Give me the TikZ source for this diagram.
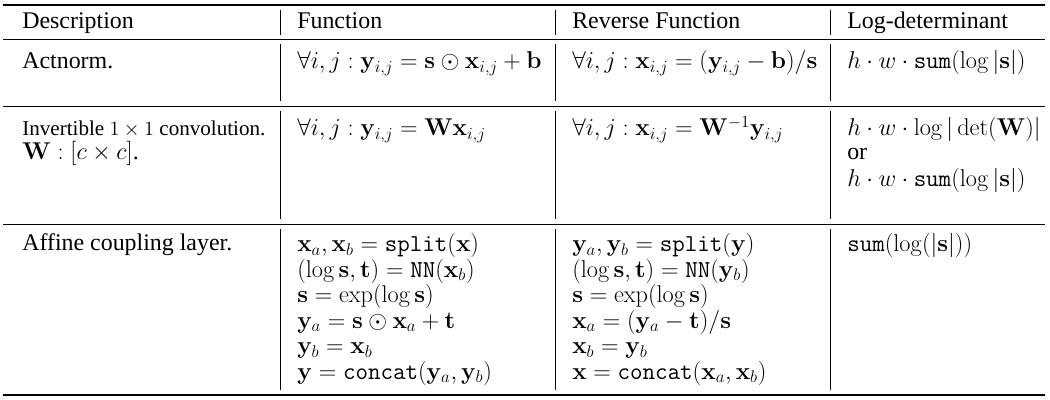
\documentclass[tikz,border=0pt]{standalone}
\usepackage{amsmath,amssymb}
\usepackage[no-math]{fontspec}
\setmainfont{Liberation Serif}
\begin{document}
\begin{tikzpicture}[x=0.025cm, y=-0.025cm,
    cell/.style={anchor=base west, inner sep=0pt, font=\fontsize{17}{20}\selectfont},
    rule/.style={line width=0.8pt},
    sep/.style={line width=0.5pt}]
    \useasboundingbox (0, 0) rectangle (1050, 400);

    % rules
    \draw[rule] (3, 5) -- (1045, 5);
    \draw[sep]  (3, 39) -- (1045, 39);
    \draw[sep]  (3, 106) -- (1045, 106);
    \draw[sep]  (3, 224) -- (1045, 224);
    \draw[rule] (3, 395) -- (1045, 395);

    % column separators
    \foreach \x in {280, 555, 830} {
        \draw[sep] (\x, 10) -- (\x, 35);
        \draw[sep] (\x, 44) -- (\x, 101);
        \draw[sep] (\x, 111) -- (\x, 219);
        \draw[sep] (\x, 229) -- (\x, 390);
    }

    % header
    \node[cell] (hdesc) at (22, 29)  {Description};
    \node[cell] (hfun)  at (297, 29) {Function};
    \node[cell] (hrev)  at (572, 29) {Reverse Function};
    \node[cell] (hlog)  at (847, 29) {Log-determinant};

    % actnorm
    \node[cell] (adesc) at (22, 69)  {Actnorm.};
    \node[cell] (afun)  at (297, 69) {$\forall i,j: \mathbf{y}_{i,j} = \mathbf{s}\odot\mathbf{x}_{i,j}+\mathbf{b}$};
    \node[cell] (arev)  at (572, 69) {$\forall i,j: \mathbf{x}_{i,j} = (\mathbf{y}_{i,j}-\mathbf{b})/\mathbf{s}$};
    \node[cell] (alog)  at (847, 69) {$h\cdot w\cdot \mathtt{sum}(\log|\mathbf{s}|)$};

    % invertible conv
    \node[cell, font=\fontsize{15}{18}\selectfont] (idesc) at (22, 136) {Invertible $1\times1$ convolution.};
    \node[cell] (idesc2) at (22, 160) {$\mathbf{W}:[c\times c]$.};
    \node[cell] (ifun)  at (297, 136) {$\forall i,j: \mathbf{y}_{i,j} = \mathbf{W}\mathbf{x}_{i,j}$};
    \node[cell] (irev)  at (572, 136) {$\forall i,j: \mathbf{x}_{i,j} = \mathbf{W}^{-1}\mathbf{y}_{i,j}$};
    \node[cell] (ilog)  at (847, 136) {$h\cdot w\cdot \log|\det(\mathbf{W})|$};
    \node[cell] (ilog2) at (847, 160) {or};
    \node[cell] (ilog3) at (847, 186) {$h\cdot w\cdot \mathtt{sum}(\log|\mathbf{s}|)$};

    % affine coupling
    \node[cell] (cdesc) at (22, 250) {Affine coupling layer.};
    \foreach \t [count=\i] in {
        {$\mathbf{x}_a,\mathbf{x}_b = \mathtt{split}(\mathbf{x})$},
        {$(\log\mathbf{s},\mathbf{t}) = \mathtt{NN}(\mathbf{x}_b)$},
        {$\mathbf{s} = \exp(\log\mathbf{s})$},
        {$\mathbf{y}_a = \mathbf{s}\odot\mathbf{x}_a+\mathbf{t}$},
        {$\mathbf{y}_b = \mathbf{x}_b$},
        {$\mathbf{y} = \mathtt{concat}(\mathbf{y}_a,\mathbf{y}_b)$}}
        \node[cell] (cfun\i) at (297, 226 + 25.5*\i) {\t};
    \foreach \t [count=\i] in {
        {$\mathbf{y}_a,\mathbf{y}_b = \mathtt{split}(\mathbf{y})$},
        {$(\log\mathbf{s},\mathbf{t}) = \mathtt{NN}(\mathbf{y}_b)$},
        {$\mathbf{s} = \exp(\log\mathbf{s})$},
        {$\mathbf{x}_a = (\mathbf{y}_a-\mathbf{t})/\mathbf{s}$},
        {$\mathbf{x}_b = \mathbf{y}_b$},
        {$\mathbf{x} = \mathtt{concat}(\mathbf{x}_a,\mathbf{x}_b)$}}
        \node[cell] (crev\i) at (572, 226 + 25.5*\i) {\t};
    \node[cell] (clog) at (847, 251.5) {$\mathtt{sum}(\log(|\mathbf{s}|))$};
\end{tikzpicture}
\end{document}
